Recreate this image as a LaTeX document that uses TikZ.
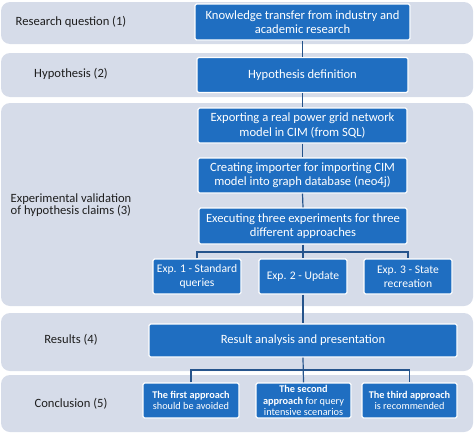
\documentclass[tikz,border=0pt]{standalone}
\usepackage{fontspec}
\setmainfont{Carlito}
\definecolor{bandc}{RGB}{214,220,233}
\definecolor{boxc}{RGB}{31,110,193}
\definecolor{linec}{RGB}{38,84,140}
\definecolor{labc}{RGB}{30,30,30}
\tikzset{
  band/.style={fill=bandc, draw=none, rounded corners=9pt, inner sep=0pt},
  bluebox/.style={fill=boxc, draw=white, line width=1.3pt, text=white, align=center, inner sep=1pt,
    font=\fontsize{12.6}{14.2}\selectfont, rounded corners=1.5pt},
  expbox/.style={bluebox, font=\fontsize{11.6}{14}\selectfont},
  smallbox/.style={bluebox, font=\fontsize{10.3}{11.3}\selectfont},
  lab/.style={text=labc, align=left, font=\fontsize{12.6}{12.4}\selectfont},
  conn/.style={draw=linec, line width=1.2pt}
}
\begin{document}
\begin{tikzpicture}[x=1pt,y=-1pt]
\useasboundingbox (0,0) rectangle (474,434);
% bands
\node[band, minimum width=472pt, minimum height=42pt] (band1) at (237,23) {};
\node[band, minimum width=472pt, minimum height=44pt] (band2) at (237,75) {};
\node[band, minimum width=472pt, minimum height=203pt] (band3) at (237,204.5) {};
\node[band, minimum width=472pt, minimum height=58pt] (band4) at (237,342) {};
\node[band, minimum width=472pt, minimum height=57pt] (band5) at (237,403.5) {};
% labels
\node[lab] (l1) at (71,22) {Research question (1)};
\node[lab] (l2) at (71,74) {Hypothesis (2)};
\node[lab] (l3) at (71,205) {Experimental validation\\of hypothesis claims (3)};
\node[lab] (l4) at (71,340) {Results (4)};
\node[lab] (l5) at (71,404) {Conclusion (5)};
% boxes
\node[bluebox, minimum width=215pt, minimum height=36pt] (b1) at (302.5,22) {Knowledge transfer from industry and\\academic research};
\node[bluebox, minimum width=211pt, minimum height=35pt] (b2) at (302.5,75) {Hypothesis definition};
\node[bluebox, minimum width=209pt, minimum height=35pt] (b3) at (302.5,125.5) {Exporting a real power grid network\\model in CIM (from SQL)};
\node[bluebox, minimum width=209pt, minimum height=35pt] (b4) at (302.5,175.5) {Creating importer for importing CIM\\model into graph database (neo4j)};
\node[bluebox, minimum width=208pt, minimum height=36pt] (b5) at (303,226) {Executing three experiments for three\\different approaches};
\node[expbox, minimum width=88pt, minimum height=35pt] (e1) at (197,276.5) {Exp. 1 - Standard\\queries};
\node[expbox, minimum width=88pt, minimum height=35pt] (e2) at (303,276.5) {Exp. 2 - Update};
\node[expbox, minimum width=88pt, minimum height=35pt] (e3) at (408,276.5) {Exp. 3 - State\\recreation};
\node[bluebox, minimum width=308pt, minimum height=33pt] (r) at (303,340.5) {Result analysis and presentation};
\node[smallbox, minimum width=96pt, minimum height=35pt] (c1) at (191,400.5) {\textbf{The first approach}\\should be avoided};
\node[smallbox, minimum width=95pt, minimum height=35pt] (c2) at (303.5,400.5) {\textbf{The second}\\\textbf{approach} for query\\intensive scenarios};
\node[smallbox, minimum width=95pt, minimum height=35pt] (c3) at (409.5,400.5) {\textbf{The third approach}\\is recommended};
% connectors
\coordinate (k1) at (303,252);
\coordinate (k2) at (303,370);
\draw[conn] (b1.south) -- (b2.north);
\draw[conn] (b2.south) -- (b3.north);
\draw[conn] (b3.south) -- (b4.north);
\draw[conn] (b4.south) -- (b5.north);
\draw[conn] (b5.south) -- (e2.north);
\draw[conn] (e1.north) |- (k1) -| (e3.north);
\draw[conn] (e2.south) -- (r.north);
\draw[conn] (r.south) -- (c2.north);
\draw[conn] (c1.north) |- (k2) -| (c3.north);
\end{tikzpicture}
\end{document}
